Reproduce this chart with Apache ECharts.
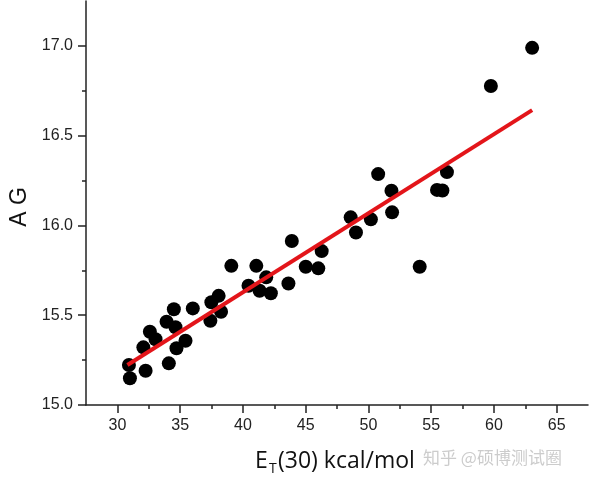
<!DOCTYPE html>
<html>
<head>
<meta charset="utf-8">
<script src="https://cdn.jsdelivr.net/npm/echarts@6/dist/echarts.min.js"></script>
<style>html,body{margin:0;padding:0;background:#fff}#c{width:590px;height:485px}</style>
</head>
<body>
<div id="c"></div>
<script>
// ET(30) values (x) and A G values (y) for the measured points
var etValues = [30.92, 31.00, 32.25, 32.07, 32.59, 33.04, 33.92, 34.10, 34.50, 34.63,
                34.71, 35.43, 36.01, 37.41, 37.49, 38.07, 38.26, 39.08, 40.45, 41.07,
                41.33, 41.86, 42.23, 43.63, 43.90, 45.01, 46.01, 46.28, 48.59, 49.01,
                50.20, 50.78, 51.84, 51.89, 54.09, 55.47, 55.90, 56.26, 59.76, 63.05];
var agValues = [15.223, 15.149, 15.191, 15.321, 15.408, 15.366, 15.464, 15.232, 15.533, 15.433,
                15.316, 15.358, 15.538, 15.469, 15.572, 15.608, 15.519, 15.775, 15.664, 15.775,
                15.636, 15.711, 15.622, 15.677, 15.913, 15.770, 15.761, 15.857, 16.045, 15.961,
                16.034, 16.286, 16.193, 16.073, 15.770, 16.198, 16.195, 16.297, 16.777, 16.989];
// linear fit line end points
var fitX = [30.8, 63.05];
var fitY = [15.223, 16.642];
// tick labels
var xTickLabels = [30, 35, 40, 45, 50, 55, 60, 65];
var xMinorTicks = [32.5, 37.5, 42.5, 47.5, 52.5, 57.5, 62.5];
var yTickLabels = [15.0, 15.5, 16.0, 16.5, 17.0];
var yMinorTicks = [15.25, 15.75, 16.25, 16.75];

var points = etValues.map(function (x, i) { return [x, agValues[i]]; });
var fitLine = fitX.map(function (x, i) { return [x, fitY[i]]; });

var axisColor = '#222';
var labelFont = '"Liberation Sans", Arial, sans-serif';

var chart = echarts.init(document.getElementById('c'), null, {renderer: 'canvas'});
chart.setOption({
  backgroundColor: '#fff',
  animation: false,
  grid: {left: 86, right: 2, top: 1, bottom: 80, outerBoundsMode: 'none'},
  xAxis: [{
    type: 'value', min: 27.5, max: 67.5, position: 'bottom',
    axisLine: {show: true, onZero: false, lineStyle: {color: axisColor, width: 1.5}},
    axisTick: {show: true, inside: false, length: 8, customValues: xTickLabels, lineStyle: {color: axisColor, width: 1.5}},
    axisLabel: {show: true, customValues: xTickLabels, margin: 13, color: axisColor, fontSize: 16, fontFamily: labelFont},
    splitLine: {show: false}
  }, {
    type: 'value', min: 27.5, max: 67.5, position: 'bottom',
    axisLine: {show: false, onZero: false},
    axisTick: {show: true, inside: false, length: 4, customValues: xMinorTicks, lineStyle: {color: axisColor, width: 1.5}},
    axisLabel: {show: false},
    splitLine: {show: false}
  }],
  yAxis: [{
    type: 'value', min: 15, max: 17.25, position: 'left',
    axisLine: {show: true, onZero: false, lineStyle: {color: axisColor, width: 1.5}},
    axisTick: {show: true, inside: false, length: 8, customValues: yTickLabels, lineStyle: {color: axisColor, width: 1.5}},
    axisLabel: {show: true, customValues: yTickLabels, margin: 13, color: axisColor, fontSize: 16, fontFamily: labelFont,
      formatter: function (v) { return v.toFixed(1); }},
    splitLine: {show: false}
  }, {
    type: 'value', min: 15, max: 17.25, position: 'left',
    axisLine: {show: false, onZero: false},
    axisTick: {show: true, inside: false, length: 4, customValues: yMinorTicks, lineStyle: {color: axisColor, width: 1.5}},
    axisLabel: {show: false},
    splitLine: {show: false}
  }],
  series: [{
    type: 'scatter',
    xAxisIndex: 0, yAxisIndex: 0,
    data: points,
    symbol: 'circle',
    symbolSize: 14,
    itemStyle: {color: '#000', opacity: 1},
    emphasis: {disabled: true},
    z: 2
  }, {
    type: 'line',
    xAxisIndex: 0, yAxisIndex: 0,
    data: fitLine,
    symbol: 'none',
    lineStyle: {color: '#e3151a', width: 4},
    z: 3
  }],
  graphic: [{
    type: 'text', x: 20, y: 207, rotation: Math.PI / 2,
    style: {text: 'A G', fill: '#111', font: '23px "Liberation Sans", Arial, sans-serif', align: 'center', verticalAlign: 'middle'}
  }, {
    type: 'text', left: 255, top: 450,
    style: {text: 'E', fill: '#111', font: '23px "Open Sans", sans-serif'}
  }, {
    type: 'text', left: 269, top: 462,
    style: {text: 'T', fill: '#111', font: '14px "Open Sans", sans-serif'}
  }, {
    type: 'text', left: 278, top: 450,
    style: {text: '(30) kcal/mol', fill: '#111', font: '23px "Open Sans", sans-serif'}
  }, {
    type: 'text', left: 423, top: 449,
    style: {text: '知乎 @硕博测试圈', fill: '#cccccc', font: '17px "Noto Sans CJK SC", sans-serif'}
  }]
});
</script>
</body>
</html>
